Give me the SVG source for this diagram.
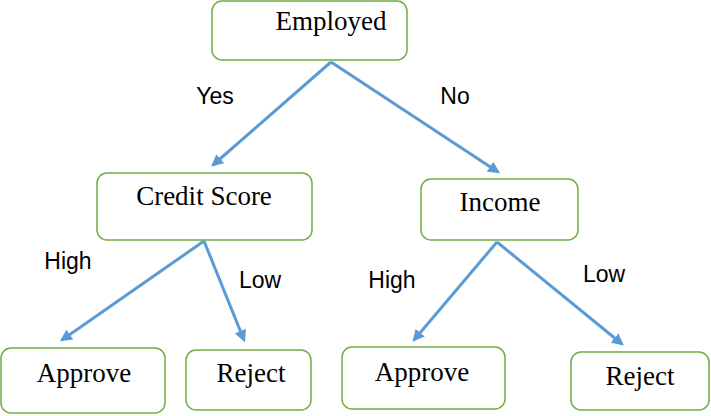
<svg xmlns="http://www.w3.org/2000/svg" width="711" height="416" viewBox="0 0 711 416">
<style>
.n{fill:#fff;stroke:#70ad47;stroke-width:1.5}
.t{font-family:"Liberation Serif",serif;font-size:27px;text-anchor:middle;fill:#000}
.l{font-family:"Liberation Sans",sans-serif;font-size:23px;text-anchor:middle;fill:#000}
.e{stroke:#5b9bd5;stroke-width:3;fill:none;marker-end:url(#a)}
</style>
<defs><marker id="a" viewBox="0 0 10 10" refX="8" refY="5" markerWidth="4" markerHeight="4" orient="auto"><path d="M0,0L10,5L0,10z" fill="#5b9bd5"/></marker></defs>
<g id="edges">
<line class="e" x1="331" y1="62" x2="213" y2="165"/>
<line class="e" x1="331" y1="62" x2="498" y2="172"/>
<line class="e" x1="204" y1="241" x2="62" y2="340"/>
<line class="e" x1="204" y1="241" x2="244" y2="340"/>
<line class="e" x1="497" y1="242" x2="414" y2="340"/>
<line class="e" x1="497" y1="242" x2="622" y2="344"/>
</g>
<g id="labels">
<text class="l" x="215" y="104">Yes</text>
<text class="l" x="455" y="104">No</text>
<text class="l" x="68" y="269">High</text>
<text class="l" x="260" y="288">Low</text>
<text class="l" x="392" y="288">High</text>
<text class="l" x="604" y="282">Low</text>
</g>
<g id="employed"><rect class="n" x="212" y="1" width="195" height="59" rx="10"/><text class="t" x="331" y="30">Employed</text></g>
<g id="credit"><rect class="n" x="97" y="173" width="215" height="67" rx="10"/><text class="t" x="204" y="205">Credit Score</text></g>
<g id="income"><rect class="n" x="421" y="179" width="157" height="61" rx="10"/><text class="t" x="500" y="211">Income</text></g>
<g id="approve1"><rect class="n" x="1" y="348" width="164" height="65" rx="10"/><text class="t" x="84" y="382">Approve</text></g>
<g id="reject1"><rect class="n" x="186" y="350" width="125" height="60" rx="10"/><text class="t" x="251" y="382">Reject</text></g>
<g id="approve2"><rect class="n" x="342" y="347" width="163" height="62" rx="10"/><text class="t" x="422" y="381">Approve</text></g>
<g id="reject2"><rect class="n" x="571" y="352" width="138" height="58" rx="10"/><text class="t" x="640" y="385">Reject</text></g>
</svg>
